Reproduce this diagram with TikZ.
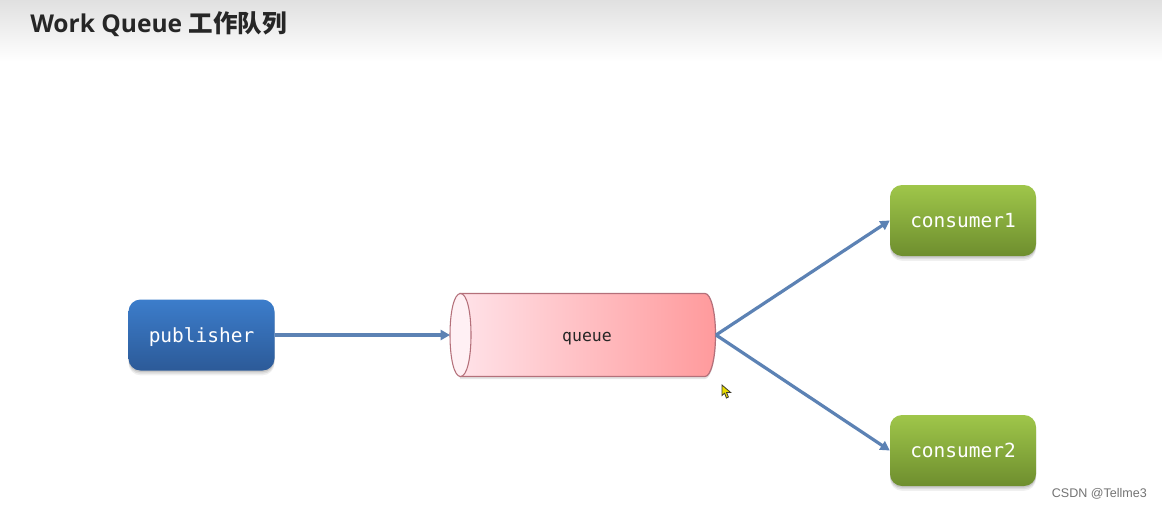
\documentclass[tikz,border=0pt]{standalone}
\usepackage{fontspec}
\setmainfont{Open Sans}
\setmonofont{DejaVu Sans Mono}
\newfontfamily\cjk{Noto Sans CJK SC}
\newfontfamily\wm{Liberation Sans}
\usetikzlibrary{arrows.meta}
\definecolor{linkblue}{HTML}{5C82B4}
\definecolor{qedge}{HTML}{B4707A}
\definecolor{pubtop}{HTML}{3C7DCB}
\definecolor{pubbot}{HTML}{2C5A98}
\definecolor{contop}{HTML}{9FC64A}
\definecolor{conbot}{HTML}{6E8E2E}
\definecolor{qleft}{HTML}{FFE2E8}
\definecolor{qright}{HTML}{FF9A9C}
\definecolor{qcap}{HTML}{FFF0F4}
\tikzset{
  x=0.75pt,y=-0.75pt,
  softshadow/.style={preaction={fill=black,opacity=.06,transform canvas={yshift=-3.6pt}},
                     preaction={fill=black,opacity=.08,transform canvas={yshift=-2.4pt}},
                     preaction={fill=black,opacity=.10,transform canvas={yshift=-1.2pt}}},
  box/.style={rounded corners=9pt,minimum width=109.5pt,minimum height=53.25pt,inner sep=0pt,
              text=white,text height=11pt,text depth=0pt,font=\ttfamily\fontsize{14.6pt}{16pt}\selectfont,softshadow},
  pubbox/.style={box,top color=pubtop,bottom color=pubbot},
  conbox/.style={box,top color=contop,bottom color=conbot},
  link/.style={draw=linkblue,line width=2.4pt,-{Triangle[length=7pt,width=7.5pt]},shorten >=0pt},
  queuetext/.style={inner sep=0pt,minimum width=199.5pt,minimum height=63pt,text=black!85,
                    text height=9.8pt,text depth=0pt,font=\ttfamily\fontsize{12.4pt}{14pt}\selectfont}
}
\begin{document}
\begin{tikzpicture}
\useasboundingbox (0,0) rectangle (1162,508);
\fill[white] (0,0) rectangle (1162,508);
\shade[top color=black!12,bottom color=white] (0,0) rectangle (1162,62);
\node[anchor=west,inner sep=0pt,text=black!85,font=\bfseries\fontsize{18.4pt}{20pt}\selectfont] (title) at (30,24) {Work Queue {\cjk 工作队列}};
% queue body
\path[fill=black,opacity=.10] (460,295) -- (705,295)
   .. controls (711,295) and (716,314) .. (716,337)
   .. controls (716,360) and (711,379) .. (705,379)
   -- (460,379) -- cycle;
\path[draw=qedge,line width=.9pt,left color=qleft,right color=qright] (460,293.5) -- (705,293.5)
   .. controls (711,293.5) and (715.5,312) .. (715.5,335)
   .. controls (715.5,358) and (711,376.5) .. (705,376.5)
   -- (460,376.5) -- cycle;
\path[draw=qedge,line width=.8pt,fill=qcap] (460.5,293.5) .. controls (454,293.5) and (450,312) .. (450,335)
   .. controls (450,358) and (454,376.5) .. (460.5,376.5)
   .. controls (467,376.5) and (471,358) .. (471,335)
   .. controls (471,312) and (467,293.5) .. (460.5,293.5) -- cycle;
\node[queuetext] (queue) at (587,335) {queue};
\coordinate (qin) at (450,335);
\coordinate (qout) at (716,335);
\node[pubbox] (publisher) at (201.5,335) {publisher};
\node[conbox] (consumer1) at (963,220.5) {consumer1};
\node[conbox] (consumer2) at (963,450.5) {consumer2};
\draw[link] (publisher.east) -- (qin);
\draw[link] (qout) -- (consumer1.west);
\draw[link] (qout) -- (consumer2.west);
% mouse pointer
\path[draw=black!75!olive,line width=.6pt,fill=yellow!80!olive] (722,385) -- (722,395.5) -- (724.6,393.2) -- (726.4,398) -- (728.4,397) -- (726.6,392.6) -- (730.6,392.4) -- cycle;
\node[anchor=east,inner sep=0pt,text=black!55,font=\wm\fontsize{9.4pt}{11pt}\selectfont] (mark) at (1147,494) {CSDN @Tellme3};
\end{tikzpicture}
\end{document}
